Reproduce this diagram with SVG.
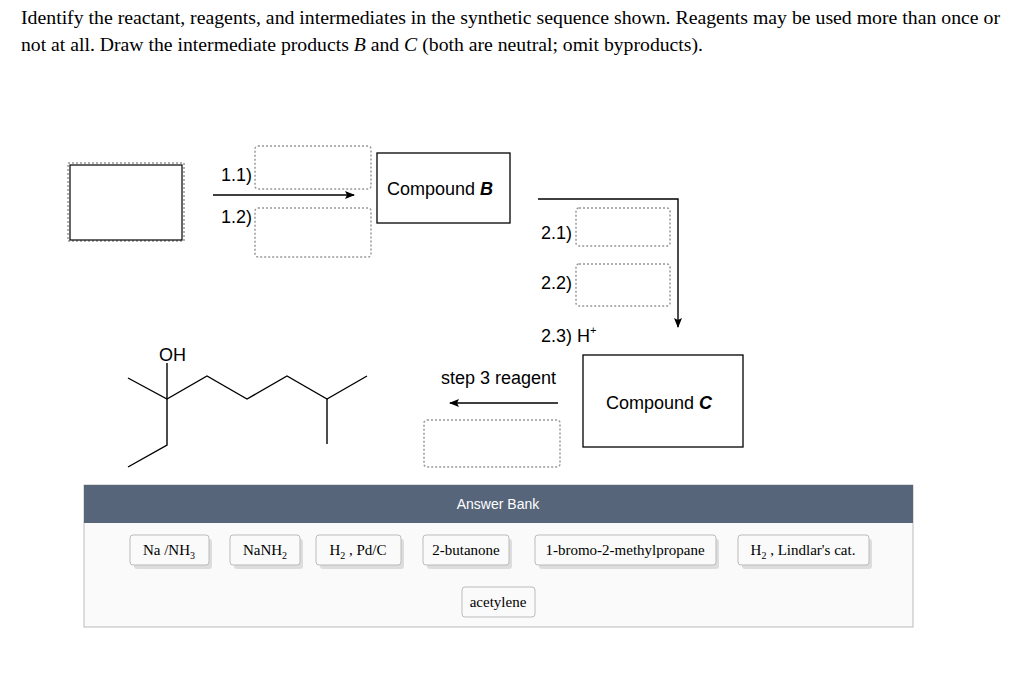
<svg xmlns="http://www.w3.org/2000/svg" width="1024" height="684" viewBox="0 0 1024 684">
<style>
.q{font-family:"Liberation Serif",serif;font-size:19px;fill:#000}
.s{font-family:"Liberation Sans",Arial,sans-serif;font-size:18px;fill:#000}
.d{fill:#fff;stroke:#999;stroke-width:1.5;stroke-dasharray:2 2}
.b{fill:#fff;stroke:#000;stroke-width:1.3}
.ln{stroke:#000;stroke-width:1.4;fill:none}
.btn{fill:#fafafa;stroke:#bbb;stroke-width:1}
.sh{fill:#ddd}
.t{font-family:"Liberation Serif",serif;font-size:15px;fill:#000}
</style>
<defs><marker id="ah" markerWidth="10" markerHeight="8" refX="9" refY="4" orient="auto" markerUnits="userSpaceOnUse"><path d="M0,0 L10,4 L0,8 L2,4Z" fill="#000"/></marker></defs>
<rect width="1024" height="684" fill="#fff"/>
<text class="q" x="21" y="24" textLength="979" lengthAdjust="spacingAndGlyphs">Identify the reactant, reagents, and intermediates in the synthetic sequence shown. Reagents may be used more than once or</text>
<text class="q" x="21" y="51" textLength="682" lengthAdjust="spacingAndGlyphs">not at all. Draw the intermediate products <tspan font-style="italic">B</tspan> and <tspan font-style="italic">C</tspan> (both are neutral; omit byproducts).</text>
<g id="connectors">
<line class="ln" x1="213" y1="195" x2="354" y2="195" marker-end="url(#ah)"/>
<polyline class="ln" points="538,199 678,199 678,327" marker-end="url(#ah)"/>
<line class="ln" x1="558" y1="403" x2="450" y2="403" marker-end="url(#ah)"/>
</g>
<g id="reactant"><rect x="68" y="163" width="116" height="78" class="d"/><rect x="70" y="165" width="112" height="75" fill="none" stroke="#000" stroke-width="1.2"/></g>
<g id="r11"><text class="s" x="221" y="181">1.1)</text><rect x="255" y="146" width="116" height="43" rx="3" class="d"/></g>
<g id="r12"><text class="s" x="221" y="223">1.2)</text><rect x="255" y="208" width="116" height="49" rx="3" class="d"/></g>
<g id="compB"><rect x="377" y="153" width="133" height="70" class="b"/><text class="s" x="387" y="195">Compound <tspan font-weight="bold" font-style="italic">B</tspan></text></g>
<g id="r21"><text class="s" x="541" y="239">2.1)</text><rect x="576" y="208" width="94" height="38" rx="3" class="d"/></g>
<g id="r22"><text class="s" x="541" y="289">2.2)</text><rect x="576" y="264" width="94" height="42" rx="3" class="d"/></g>
<g id="r23"><text class="s" x="541" y="342">2.3) H<tspan font-size="11" dy="-8">+</tspan></text></g>
<g id="compC"><rect x="583" y="355" width="160" height="92" class="b"/><text class="s" x="606" y="409">Compound <tspan font-weight="bold" font-style="italic">C</tspan></text></g>
<g id="step3"><text class="s" x="441" y="384">step 3 reagent</text><rect x="424" y="420" width="136" height="47" rx="3" class="d"/></g>
<g id="product">
<text class="s" x="159" y="361" font-size="17">OH</text>
<polyline class="ln" points="167,363 167,399"/>
<polyline class="ln" points="128,378 167,399 207,376 247,399 287,376 327,399 367,376"/>
<polyline class="ln" points="327,399 327,444"/>
<polyline class="ln" points="167,399 167,445 128,467"/>
</g>
<g id="bank">
<rect x="84" y="485" width="829" height="142" fill="#fafafa" stroke="#bbb"/>
<rect x="84" y="485" width="829" height="38" fill="#56657a"/>
<text x="498" y="509" text-anchor="middle" font-family="Liberation Sans,Arial,sans-serif" font-size="14" fill="#fff">Answer Bank</text>
<rect class="sh" x="134" y="539" width="78" height="30" rx="3"/><rect class="btn" x="130" y="535" width="79" height="30" rx="3"/><text class="t" x="169" y="555" text-anchor="middle">Na /NH<tspan font-size="10" dy="4">3</tspan></text>
<rect class="sh" x="234" y="539" width="69" height="30" rx="3"/><rect class="btn" x="230" y="535" width="70" height="30" rx="3"/><text class="t" x="265" y="555" text-anchor="middle">NaNH<tspan font-size="10" dy="4">2</tspan></text>
<rect class="sh" x="320" y="539" width="84" height="30" rx="3"/><rect class="btn" x="316" y="535" width="85" height="30" rx="3"/><text class="t" x="358" y="555" text-anchor="middle">H<tspan font-size="10" dy="4">2</tspan><tspan dy="-4"> , Pd/C</tspan></text>
<rect class="sh" x="427" y="539" width="85" height="30" rx="3"/><rect class="btn" x="423" y="535" width="86" height="30" rx="3"/><text class="t" x="466" y="555" text-anchor="middle">2-butanone</text>
<rect class="sh" x="539" y="539" width="180" height="30" rx="3"/><rect class="btn" x="535" y="535" width="181" height="30" rx="3"/><text class="t" x="625" y="555" text-anchor="middle">1-bromo-2-methylpropane</text>
<rect class="sh" x="742" y="539" width="130" height="30" rx="3"/><rect class="btn" x="738" y="535" width="131" height="30" rx="3"/><text class="t" x="803" y="555" text-anchor="middle">H<tspan font-size="10" dy="4">2</tspan><tspan dy="-4"> , Lindlar's cat.</tspan></text>
<rect class="btn" x="462" y="587" width="73" height="30" rx="3"/><text class="t" x="498" y="607" text-anchor="middle">acetylene</text>
</g>
</svg>
